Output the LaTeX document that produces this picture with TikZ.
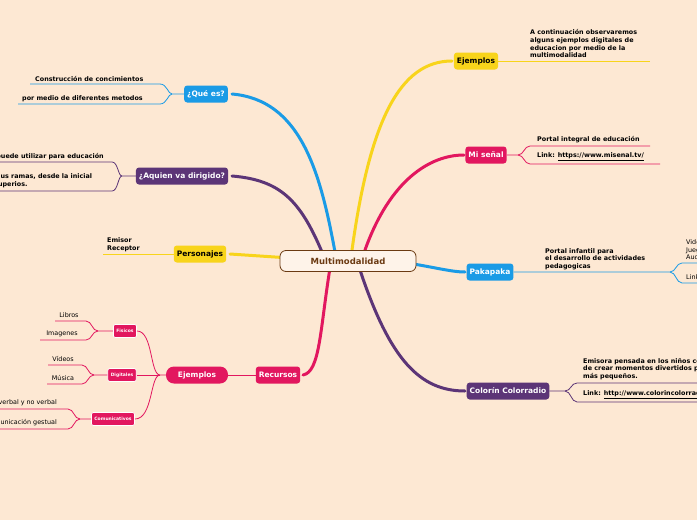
\documentclass[tikz,border=0pt]{standalone}
\usepackage{fontspec}
\setmainfont{DejaVu Sans}
\begin{document}
\begin{tikzpicture}[x=1pt,y=-1pt,
 topic/.style={rounded corners=3pt,text=white,font=\fontsize{7.5}{9}\selectfont\bfseries,inner sep=3pt,minimum height=17pt},
 sub/.style={rounded corners=2pt,text=white,draw=white,line width=0.8pt,font=\fontsize{4.5}{5}\selectfont\bfseries,inner sep=3pt,minimum height=13pt},
 leaf/.style={font=\fontsize{6.4}{7.6}\selectfont\bfseries,align=left,inner sep=0pt},
 leafn/.style={font=\fontsize{6.4}{7.6}\selectfont,align=left,inner sep=0pt},
 br/.style={line width=3pt,line cap=round},
 ln/.style={line width=0.8pt}]
\definecolor{bgc}{HTML}{FDE8D3}
\definecolor{cb}{HTML}{1A9BE6}
\definecolor{cy}{HTML}{F8D41B}
\definecolor{cp}{HTML}{5C3577}
\definecolor{ck}{HTML}{E2175F}
\definecolor{brn}{HTML}{6B3A12}
\fill[bgc] (0,0) rectangle (697,520);
\useasboundingbox (0,0) rectangle (697,520);
% branches
\draw[br,cb] (335,252) .. controls (320,170) and (300,100) .. (232,94);
\draw[br,cp] (322,252) .. controls (300,200) and (280,180) .. (232,176);
\draw[br,cy] (290,258) -- (230,254);
\draw[br,ck] (330,268) .. controls (320,330) and (320,372) .. (303,375);
\draw[br,cy] (352,250) .. controls (370,120) and (400,61) .. (452,61);
\draw[br,ck] (365,250) .. controls (390,180) and (430,155) .. (464,155);
\draw[br,cb] (400,262) .. controls (430,266) and (450,272) .. (465,272);
\draw[br,cp] (360,270) .. controls (390,360) and (420,391) .. (465,391);
% center
\node[draw=brn,line width=0.8pt,fill=bgc!50!white,rounded corners=6pt,minimum width=136pt,minimum height=21pt,font=\fontsize{8.5}{10}\selectfont\bfseries,text=brn] (c) at (348,261) {Multimodalidad};
% left topics
\node[topic,fill=cb] (q) at (206,94) {¿Qué es?};
\node[topic,fill=cp] (a) at (182,176) {¿Aquien va dirigido?};
\node[topic,fill=cy,text=black] (p) at (200,254) {Personajes};
\node[topic,fill=ck] (r) at (278,375) {Recursos};
\node[topic,fill=ck,rounded corners=8pt,minimum width=62pt] (e) at (197,375) {Ejemplos};
\draw[ln,ck] (r.west) -- (e.east);
% qué es leaves
\draw[ln,cb] (q.west) -- (172,94) .. controls (168,94) and (167,84) .. (160,84) -- (30,84);
\draw[ln,cb] (172,94) .. controls (168,94) and (167,104) .. (160,104) -- (18,104);
\node[leaf,anchor=south west] at (35,82) {Construcción de concimientos};
\node[leaf,anchor=south west] at (22,102) {por medio de diferentes metodos};
% aquien leaves
\draw[ln,cp] (a.west) -- (122,176) .. controls (118,176) and (118,162) .. (112,162) -- (0,162);
\draw[ln,cp] (122,176) .. controls (118,176) and (118,191) .. (112,191) -- (0,191);
\node[leaf,anchor=south east] at (104,160) {Se puede utilizar para educación};
\node[leaf,anchor=south west] at (-37,188) {En todas sus ramas, desde la inicial\\hasta la superios.};
% personajes
\draw[ln,cy] (p.west) -- (103,254);
\node[leaf,anchor=south west] at (107,252) {Emisor\\Receptor};
% subs
\node[sub,fill=ck] (f) at (125,331) {Fisicos};
\node[sub,fill=ck] (d) at (122,375) {Digitales};
\node[sub,fill=ck] (m) at (113,419) {Comunicativos};
\draw[ln,ck] (e.west) -- (160,375) .. controls (150,375) and (153,331) .. (f.east);
\draw[ln,ck] (160,375) -- (d.east);
\draw[ln,ck] (160,375) .. controls (150,375) and (153,419) .. (m.east);
\draw[ln,ck] (f.west) -- (98,331) .. controls (92,331) and (92,321) .. (86,321) -- (55,321);
\draw[ln,ck] (98,331) .. controls (92,331) and (92,340) .. (86,340) -- (40,340);
\draw[ln,ck] (d.west) -- (94,375) .. controls (88,375) and (88,365) .. (82,365) -- (48,365);
\draw[ln,ck] (94,375) .. controls (88,375) and (88,384) .. (82,384) -- (47,384);
\draw[ln,ck] (m.west) -- (80,419) .. controls (74,419) and (74,409) .. (68,409) -- (0,409);
\draw[ln,ck] (80,419) .. controls (74,419) and (74,429) .. (68,429) -- (0,429);
\node[leafn,anchor=south] at (69,318) {Libros};
\node[leafn,anchor=south] at (62,337) {Imagenes};
\node[leafn,anchor=south] at (63,362) {Vídeos};
\node[leafn,anchor=south] at (63,381) {Música};
\node[leafn,anchor=south east] at (57,406) {Lenguaje verbal y no verbal};
\node[leafn,anchor=south east] at (57,426) {Comunicación gestual};
% right topics
\node[topic,fill=cy,text=black] (ej) at (476,61) {Ejemplos};
\node[topic,fill=ck] (ms) at (486,155) {Mi señal};
\node[topic,fill=cb] (pk) at (490,272) {Pakapaka};
\node[topic,fill=cp] (cc) at (508,391) {Colorín Colorradio};
\draw[ln,cy] (ej.east) -- (650,61);
\node[leaf,anchor=south west] at (530,58) {A continuación observaremos\\alguns ejemplos digitales de\\educacion por medio de la\\multimodalidad};
\draw[ln,ck] (ms.east) -- (518,155) .. controls (524,155) and (524,146) .. (530,146) -- (650,146);
\draw[ln,ck] (518,155) .. controls (524,155) and (524,164) .. (530,164) -- (660,164);
\node[leaf,anchor=south west] at (537,143) {Portal integral de educación};
\node[leaf,anchor=south west] at (537,161) {Link: \underline{https://www.misenal.tv/}};
\draw[ln,cb] (pk.east) -- (670,272) .. controls (676,272) and (676,263) .. (682,263) -- (697,263);
\draw[ln,cb] (670,272) .. controls (676,272) and (676,283) .. (682,283) -- (697,283);
\node[leaf,anchor=south west] at (545,270) {Portal infantil para\\el desarrollo de actividades\\pedagogicas};
\node[leafn,anchor=south west] at (686,260) {Videos\\Juegos\\Audios};
\node[leafn,anchor=south west] at (686,280) {Link};
\draw[ln,cp] (cc.east) -- (565,391) .. controls (571,391) and (571,383) .. (577,383) -- (697,383);
\draw[ln,cp] (565,391) .. controls (571,391) and (571,402) .. (577,402) -- (697,402);
\node[leaf,anchor=south west] at (583,380) {Emisora pensada en los niños con el fin\\de crear momentos divertidos para los\\más pequeños.};
\node[leaf,anchor=south west] at (583,399) {Link: \underline{http://www.colorincolorradio.com}};
\end{tikzpicture}
\end{document}
